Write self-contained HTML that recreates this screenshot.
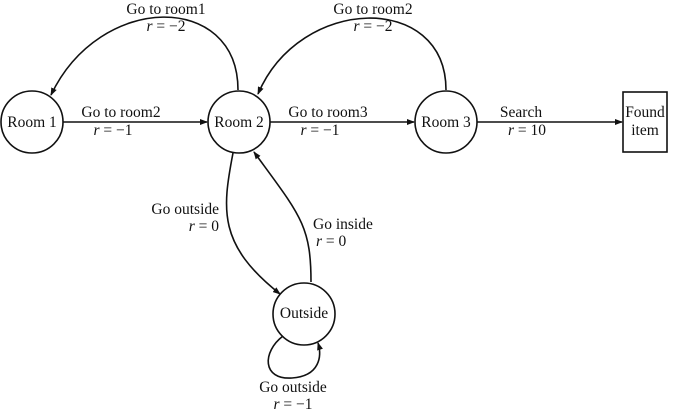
<!DOCTYPE html>
<html><head><meta charset="utf-8"><style>
html,body{margin:0;padding:0;background:#fff;}
text{font-family:"Liberation Serif",serif;font-size:15.5px;fill:#111;}
.m{font-style:italic;}
</style></head><body>
<svg width="685" height="410" viewBox="0 0 685 410" xmlns="http://www.w3.org/2000/svg">
<defs><marker id="a" markerWidth="8" markerHeight="6" refX="7" refY="3" orient="auto" markerUnits="userSpaceOnUse"><path d="M0,0 L8,3 L0,6 Z" fill="#111"/></marker></defs>
<g fill="none" stroke="#111" stroke-width="1.6">
<circle cx="32" cy="122" r="31"/>
<circle cx="239" cy="122" r="31"/>
<circle cx="446" cy="122" r="31"/>
<circle cx="304" cy="314" r="31"/>
<rect x="623" y="92" width="44" height="60"/>
<path d="M63,122 L207,122" marker-end="url(#a)"/>
<path d="M270,122 L414,122" marker-end="url(#a)"/>
<path d="M477,122 L622,122" marker-end="url(#a)"/>
<path d="M238,90 C238,-8 100,-8 51,95" marker-end="url(#a)"/>
<path d="M446,90 C446,-8 300,-5 258,94" marker-end="url(#a)"/>
<path d="M233,153 C222,210 218,245 280,294" marker-end="url(#a)"/>
<path d="M311,282 C311,225 300,215 254,152" marker-end="url(#a)"/>
<path d="M283,336 C262,352 262,380 292,378 C320,376 322,356 318,343" marker-end="url(#a)"/>
</g>
<text x="32" y="127" text-anchor="middle">Room 1</text>
<text x="239" y="127" text-anchor="middle">Room 2</text>
<text x="446" y="127" text-anchor="middle">Room 3</text>
<text x="304" y="318" text-anchor="middle">Outside</text>
<text x="645" y="117" text-anchor="middle">Found</text>
<text x="645" y="135" text-anchor="middle">item</text>
<text x="166" y="14" text-anchor="middle">Go to room1</text>
<text x="166" y="31" text-anchor="middle"><tspan class="m">r</tspan>  =  −2</text>
<text x="373" y="14" text-anchor="middle">Go to room2</text>
<text x="373" y="31" text-anchor="middle"><tspan class="m">r</tspan>  =  −2</text>
<text x="121" y="117" text-anchor="middle">Go to room2</text>
<text x="113" y="135" text-anchor="middle" xml:space="preserve"><tspan class="m">r</tspan> = −1</text>
<text x="328" y="117" text-anchor="middle">Go to room3</text>
<text x="320" y="135" text-anchor="middle" xml:space="preserve"><tspan class="m">r</tspan> = −1</text>
<text x="521" y="117" text-anchor="middle">Search</text>
<text x="527" y="135" text-anchor="middle" xml:space="preserve"><tspan class="m">r</tspan> = 10</text>
<text x="219" y="214" text-anchor="end">Go outside</text>
<text x="219" y="231" text-anchor="end" xml:space="preserve"><tspan class="m">r</tspan> = 0</text>
<text x="313" y="229">Go inside</text>
<text x="316" y="246" xml:space="preserve"><tspan class="m">r</tspan> = 0</text>
<text x="293" y="392" text-anchor="middle">Go outside</text>
<text x="293" y="409" text-anchor="middle" xml:space="preserve"><tspan class="m">r</tspan> = −1</text>
</svg>
</body></html>
